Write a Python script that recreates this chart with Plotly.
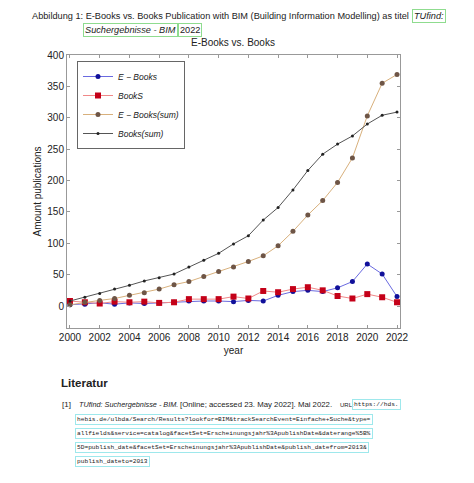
import plotly.graph_objects as go

years = list(range(2000, 2023))
ebooks = [2, 3, 5, 3, 5, 4, 5, 6, 8, 8, 8, 7, 9, 8, 17, 23, 25, 23, 29, 39, 67, 51, 15]
books = [8, 6, 4, 7, 6, 7, 5, 6, 11, 11, 11, 15, 12, 24, 22, 27, 30, 25, 16, 12, 19, 14, 6]
ebooks_sum = [2, 6, 9, 12, 17, 21, 27, 34, 39, 47, 55, 62, 71, 80, 96, 119, 145, 168, 197, 236, 303, 355, 369]
books_sum = [8, 14, 20, 27, 33, 40, 45, 51, 62, 73, 84, 99, 112, 137, 157, 185, 216, 242, 258, 271, 290, 304, 309]

url_lines = [
    "https://hds.",
    "hebis.de/ulbda/Search/Results?lookfor=BIM&trackSearchEvent=Einfache+Suche&type=",
    "allfields&service=catalog&facetSet=Erscheinungsjahr%3ApublishDate&daterange%5B%",
    "5D=publish_date&facetSet=Erscheinungsjahr%3ApublishDate&publish_datefrom=2013&",
    "publish_dateto=2013",
]

# the page body has an 8px margin, so the figure is drawn 8px smaller and shifted
OFF = 8
W, H = 474 - OFF, 483 - OFF
L, R, T, B = 67, 400, 55, 328
font = "Liberation Sans, Arial, sans-serif"
mono = "Liberation Mono, DejaVu Sans Mono, monospace"


def px(x):
    return (x - L) / (R - L)


def py(y):
    return (B - y) / (B - T)


fig = go.Figure()
fig.add_trace(go.Scatter(x=years, y=ebooks, name="E \u2212 Books", mode="lines+markers",
                         line=dict(color="#6a6ae0", width=1),
                         marker=dict(symbol="circle", size=5, color="#10109a")))
fig.add_trace(go.Scatter(x=years, y=books, name="BookS", mode="lines+markers",
                         line=dict(color="#f08888", width=1),
                         marker=dict(symbol="square", size=6, color="#c40018")))
fig.add_trace(go.Scatter(x=years, y=ebooks_sum, name="E \u2212 Books(sum)", mode="lines+markers",
                         line=dict(color="#d8b07c", width=1),
                         marker=dict(symbol="circle", size=5, color="#6e5546")))
fig.add_trace(go.Scatter(x=years, y=books_sum, name="Books(sum)", mode="lines+markers",
                         line=dict(color="#555555", width=1),
                         marker=dict(symbol="circle", size=3, color="#222222")))

fig.update_layout(
    width=W, height=H,
    margin=dict(l=L - OFF, r=474 - R, t=T - OFF, b=483 - B, pad=0),
    plot_bgcolor="#ffffff", paper_bgcolor="#ffffff",
    font=dict(family=font, size=10, color="#222222"),
    showlegend=True,
    legend=dict(x=px(77), y=py(61), xanchor="left", yanchor="top",
                bgcolor="#ffffff", bordercolor="#666666", borderwidth=1,
                font=dict(family=font, size=8.5, style="italic"),
                itemwidth=30, tracegroupgap=0),
)
fig.update_xaxes(range=[1999.8, 2022.2], tickvals=years[::2], ticks="inside", ticklen=3,
                 showgrid=False, zeroline=False, showline=True, mirror="ticks",
                 linecolor="#999999", tickcolor="#999999", linewidth=1,
                 tickfont=dict(size=10),
                 title=dict(text="year", font=dict(size=10), standoff=4))
fig.update_yaxes(range=[-35, 400], tickvals=list(range(0, 401, 50)), ticks="inside", ticklen=3,
                 showgrid=False, zeroline=False, showline=True, mirror="ticks",
                 linecolor="#999999", tickcolor="#999999", linewidth=1,
                 tickfont=dict(size=10),
                 title=dict(text="Amount publications", font=dict(size=10), standoff=3))

ann = []


def text(x, y, s, size=9.2, anchor="left", family=font, **kw):
    ann.append(dict(x=px(x), y=py(y), xref="paper", yref="paper", text=s, showarrow=False,
                    xanchor=anchor, yanchor="middle", font=dict(family=family, size=size, color="#222222"),
                    **kw))


green = dict(bordercolor="#8fdc8f", borderwidth=1, borderpad=1)
cyan = dict(bordercolor="#9ee8ec", borderwidth=1, borderpad=1)

text(30, 16, "Abbildung 1: E-Books vs. Books Publication with BIM (Building Information Modelling) as titel")
text(412, 16, "<i>TUfind:</i>", **green)
text(83, 29.5, "<i>Suchergebnisse - BIM</i>", **green)
text(178, 29.5, "2022", **green)
text(233, 43, "E-Books vs. Books", size=10, anchor="center")

text(59, 383, "<b>Literatur</b>", size=11.5)
text(60, 405, "[1]", size=8)
text(76.5, 405, "<i>TUfind: Suchergebnisse - BIM.</i>", size=7.3)
text(178, 405, "[Online; accessed 23. May 2022]. Mai 2022.", size=7.8)
text(338, 405, "URL:", size=6)
line_y = [405, 419.3, 433.3, 447.3, 461.7]
for i, s in enumerate(url_lines):
    x0 = 352 if i == 0 else 75
    text(x0, line_y[i], s.replace("&", "&amp;"), size=6.2, family=mono, **cyan)

fig.update_layout(annotations=ann)
fig.write_html("out.html")
